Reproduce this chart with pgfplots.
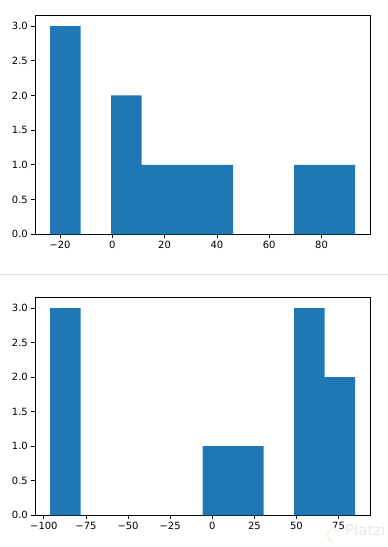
\documentclass[border=0pt]{standalone}
\usepackage{pgfplots}
\pgfplotsset{compat=1.18}
\usepackage{fontspec}
\setmainfont{DejaVu Sans}
\definecolor{mplblue}{HTML}{1F77B4}
\pgfplotsset{
  histax/.style={
    scale only axis,
    width=335.3bp,
    anchor=south west,
    ymin=0, ymax=3.15,
    ytick={0,0.5,1,1.5,2,2.5,3},
    yticklabels={0.0,0.5,1.0,1.5,2.0,2.5,3.0},
    tick pos=left,
    tick align=outside,
    major tick length=3.5bp,
    axis line style={line width=0.8bp, black},
    tick style={line width=0.8bp, black},
    tick label style={font=\fontsize{10}{12}\selectfont, text=black},
    xticklabel style={inner sep=0pt, yshift=-3.5bp, anchor=north},
    yticklabel style={inner sep=0pt, xshift=-3.5bp, anchor=east},
    /pgf/number format/assume math mode=true,
  }
}
\begin{document}
\begin{tikzpicture}
\useasboundingbox (0,0) rectangle (388bp,547bp);
\fill[white] (0,0) rectangle (388bp,547bp);
\draw[line width=1bp, black!12] (0,272bp) -- (388bp,272bp);
\begin{axis}[histax, at={(35bp,312.7bp)}, height=218.6bp,
  xmin=-29.525, xmax=98.625,
  xtick={-20,0,20,40,60,80},
  xticklabels={−20,0,20,40,60,80}]
\addplot[ybar interval, fill=mplblue, draw=none] coordinates {
(-23.7,3) (-12.05,0) (-0.4,2) (11.25,1) (22.9,1) (34.55,1) (46.2,0) (57.85,0) (69.5,1) (81.15,1) (92.8,0)
};
\end{axis}
\begin{axis}[histax, at={(35bp,31.7bp)}, height=217.6bp,
  xmin=-105.25, xmax=93.85,
  xtick={-100,-75,-50,-25,0,25,50,75},
  xticklabels={−100,−75,−50,−25,0,25,50,75}]
\addplot[ybar interval, fill=mplblue, draw=none] coordinates {
(-96.2,3) (-78.1,0) (-60.0,0) (-41.9,0) (-23.8,0) (-5.7,1) (12.4,1) (30.5,0) (48.6,3) (66.7,2) (84.8,0)
};
\end{axis}
\draw[line width=1.5bp, yellow!40!green!12] (333bp,4bp) -- (326bp,12bp) -- (333bp,20bp) -- (340bp,12bp);
\node[text=black!9, font=\fontsize{15}{17}\selectfont, anchor=base west, inner sep=0pt] at (345bp,12bp) {Platzi};
\end{tikzpicture}
\end{document}
